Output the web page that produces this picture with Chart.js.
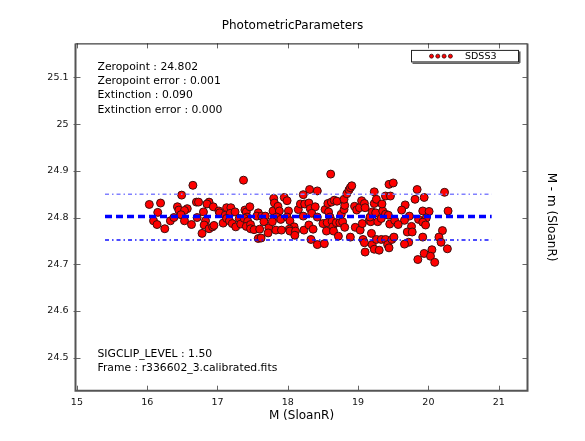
<!DOCTYPE html>
<html>
<head>
<meta charset="utf-8">
<script src="https://cdn.jsdelivr.net/npm/chart.js@4.4.0/dist/chart.umd.min.js"></script>
<style>
html, body { margin: 0; padding: 0; background: #fff; }
canvas { display: block; }
</style>
</head>
<body>
<canvas id="photometry" width="585" height="441"></canvas>
<script>
const xTicks = [15, 16, 17, 18, 19, 20, 21];
const yTicks = [24.5, 24.6, 24.7, 24.8, 24.9, 25.0, 25.1];

// SDSS3 stars: catalogue magnitude M and M - m
const sdssMag = [
    16.65, 16.49, 16.03, 16.19, 16.43, 16.45, 16.15, 16.57, 16.53, 16.48,
    16.70, 16.73, 16.88, 16.85, 16.94, 16.80, 17.02, 17.03, 17.13, 17.11,
    16.09, 16.14, 16.25, 16.33, 16.38, 16.53, 16.63, 16.71, 16.83, 16.81,
    16.88, 16.93, 16.95, 16.78, 17.08, 17.37, 17.19, 17.18, 17.25, 17.13,
    17.17, 17.21, 17.26, 17.31, 17.33, 17.39, 17.41, 17.46, 17.42, 17.38,
    17.43, 17.41, 17.47, 17.47, 17.52, 17.58, 17.56, 17.63, 17.68, 17.60,
    17.66, 17.73, 17.72, 17.58, 17.62, 17.80, 17.81, 17.79, 17.86, 17.88,
    17.84, 17.78, 17.83, 17.90, 17.91, 17.95, 17.99, 18.01, 17.99, 18.03,
    18.09, 18.02, 18.03, 18.11, 18.10, 18.15, 18.18, 18.22, 18.23, 18.24,
    18.22, 18.30, 18.31, 18.32, 18.30, 18.33, 18.61, 18.42, 18.39, 18.34,
    18.36, 18.42, 18.52, 18.42, 18.50, 18.53, 18.57, 18.58, 18.62, 18.66,
    18.70, 18.60, 18.56, 18.55, 18.63, 18.64, 18.65, 18.69, 18.74, 18.78,
    18.76, 18.80, 18.81, 18.80, 18.84, 18.87, 18.89, 18.91, 18.81, 18.72,
    18.89, 18.95, 18.98, 19.02, 19.05, 19.09, 19.10, 18.96, 19.03, 19.06,
    19.07, 19.09, 19.10, 19.16, 19.18, 19.17, 19.20, 19.23, 19.26, 19.23,
    19.19, 19.20, 19.23, 19.26, 19.30, 19.25, 19.28, 19.33, 19.35, 19.34,
    19.39, 19.44, 19.50, 19.46, 19.39, 19.43, 19.45, 19.33, 19.39, 19.42,
    19.44, 19.48, 19.52, 19.84, 20.23, 19.94, 19.81, 19.67, 19.62, 19.92,
    20.01, 20.28, 19.73, 19.66, 19.86, 19.97, 19.92, 19.57, 19.96, 19.76,
    19.70, 19.77, 20.20, 19.51, 19.92, 20.15, 19.72, 19.66, 20.18, 20.27,
    20.05, 19.94, 20.03, 19.85, 20.09
];
const sdssDelta = [
    24.869, 24.848, 24.828, 24.831, 24.823, 24.816, 24.811, 24.819, 24.815, 24.806,
    24.833, 24.833, 24.833, 24.829, 24.823, 24.812, 24.814, 24.810, 24.821, 24.805,
    24.793, 24.785, 24.776, 24.793, 24.800, 24.793, 24.785, 24.800, 24.793, 24.784,
    24.776, 24.780, 24.783, 24.766, 24.788, 24.880, 24.821, 24.809, 24.812, 24.798,
    24.793, 24.787, 24.780, 24.798, 24.786, 24.816, 24.812, 24.823, 24.801, 24.798,
    24.792, 24.781, 24.785, 24.776, 24.774, 24.810, 24.803, 24.803, 24.803, 24.775,
    24.791, 24.778, 24.767, 24.755, 24.756, 24.841, 24.831, 24.814, 24.824, 24.814,
    24.801, 24.791, 24.773, 24.796, 24.773, 24.843, 24.836, 24.814, 24.801, 24.793,
    24.780, 24.775, 24.771, 24.771, 24.762, 24.817, 24.829, 24.803, 24.773, 24.829,
    24.849, 24.831, 24.860, 24.819, 24.784, 24.753, 24.893, 24.857, 24.823, 24.809,
    24.775, 24.742, 24.744, 24.801, 24.787, 24.817, 24.830, 24.812, 24.833, 24.837,
    24.835, 24.801, 24.789, 24.771, 24.792, 24.780, 24.771, 24.789, 24.789, 24.791,
    24.807, 24.817, 24.826, 24.839, 24.851, 24.859, 24.864, 24.868, 24.779, 24.760,
    24.758, 24.824, 24.816, 24.821, 24.836, 24.830, 24.821, 24.779, 24.773, 24.787,
    24.753, 24.746, 24.726, 24.794, 24.791, 24.801, 24.812, 24.830, 24.839, 24.855,
    24.766, 24.742, 24.732, 24.753, 24.730, 24.810, 24.791, 24.798, 24.814, 24.829,
    24.846, 24.871, 24.874, 24.846, 24.807, 24.805, 24.786, 24.753, 24.753, 24.742,
    24.735, 24.753, 24.794, 24.860, 24.854, 24.843, 24.839, 24.827, 24.816, 24.814,
    24.813, 24.814, 24.803, 24.794, 24.796, 24.799, 24.790, 24.785, 24.784, 24.781,
    24.769, 24.769, 24.772, 24.758, 24.758, 24.758, 24.747, 24.743, 24.747, 24.733,
    24.731, 24.723, 24.717, 24.710, 24.704
];

const zeropoint = 24.802;
const clipUpper = 24.850;
const clipLower = 24.752;
const fitRange = [15.4, 20.9];

const infoTop = ['Zeropoint : 24.802', 'Zeropoint error : 0.001', 'Extinction : 0.090', 'Extinction error : 0.000'];
const infoBottom = ['SIGCLIP_LEVEL : 1.50', 'Frame : r336602_3.calibrated.fits'];

const FONT = "'DejaVu Sans', sans-serif";

const hline = (y) => fitRange.map(x => ({x: x, y: y}));

// frame with inward ticks, info text and the little legend box
const framePlugin = {
    id: 'frame',
    afterDatasetsDraw(chart) {
        const {ctx, chartArea: a, scales} = chart;
        ctx.save();
        ctx.strokeStyle = '#666';
        ctx.lineWidth = 1;
        ctx.beginPath();
        xTicks.forEach(v => {
            const px = Math.round(scales.x.getPixelForValue(v)) + 0.5;
            ctx.moveTo(px, a.bottom); ctx.lineTo(px, a.bottom - 5);
            ctx.moveTo(px, a.top); ctx.lineTo(px, a.top + 5);
        });
        yTicks.forEach(v => {
            const py = Math.round(scales.y.getPixelForValue(v)) + 0.5;
            ctx.moveTo(a.left - 2, py); ctx.lineTo(a.left + 5, py);
            ctx.moveTo(a.right, py); ctx.lineTo(a.right - 5, py);
        });
        ctx.stroke();

        ctx.lineWidth = 1;
        ctx.strokeStyle = '#111';
        ctx.beginPath();
        ctx.moveTo(a.left, a.top + 0.5); ctx.lineTo(a.right, a.top + 0.5);
        ctx.stroke();
        ctx.lineWidth = 2;
        ctx.strokeStyle = '#555';
        ctx.beginPath();
        ctx.moveTo(a.left, a.top); ctx.lineTo(a.left, a.bottom);
        ctx.lineTo(a.right, a.bottom); ctx.lineTo(a.right, a.top);
        ctx.stroke();
        ctx.restore();
    },
    afterDraw(chart) {
        const {ctx, chartArea: a} = chart;
        ctx.save();
        ctx.fillStyle = '#000';
        ctx.font = '10.8px ' + FONT;
        ctx.textAlign = 'left';
        ctx.textBaseline = 'alphabetic';
        infoTop.forEach((t, i) => ctx.fillText(t, a.left + 22, a.top + 26.5 + i * 14.2));
        infoBottom.forEach((t, i) => ctx.fillText(t, a.left + 22, a.bottom - 34 + i * 14.6));

        const ds = chart.data.datasets[3];
        const bx = a.right - 116.5, by = a.top + 6.5, bw = 107, bh = 11.5;
        ctx.fillStyle = '#fff';
        ctx.fillRect(bx, by, bw, bh);
        ctx.strokeStyle = '#222';
        ctx.lineWidth = 1;
        ctx.strokeRect(bx + 0.5, by + 0.5, bw, bh);
        ctx.fillStyle = '#555';
        ctx.fillRect(bx + bw + 1, by + 1.5, 1.5, bh);
        ctx.fillRect(bx + 1.5, by + bh + 1, bw, 1.5);
        for (let i = 0; i < 4; i++) {
            ctx.beginPath();
            ctx.arc(bx + 20.5 + i * 6.3, by + bh / 2 + 0.5, 2, 0, Math.PI * 2);
            ctx.fillStyle = ds.backgroundColor;
            ctx.fill();
            ctx.strokeStyle = ds.borderColor;
            ctx.lineWidth = 0.8;
            ctx.stroke();
        }
        ctx.fillStyle = '#000';
        ctx.font = '9.5px ' + FONT;
        ctx.fillText(ds.label, bx + 54, by + 9.5);
        ctx.restore();
    }
};

const myChart = new Chart(document.getElementById('photometry'), {
    type: 'scatter',
    data: {
        datasets: [
            {
                label: 'zeropoint',
                type: 'line',
                data: hline(zeropoint),
                borderColor: '#0000ff',
                borderWidth: 3.5,
                borderDash: [7, 4],
                pointRadius: 0,
                order: 0
            },
            {
                label: 'upper',
                type: 'line',
                data: hline(clipUpper),
                borderColor: '#8080ff',
                borderWidth: 1.5,
                borderDash: [4, 3, 1.5, 3],
                pointRadius: 0,
                order: 0
            },
            {
                label: 'lower',
                type: 'line',
                data: hline(clipLower),
                borderColor: '#1010ff',
                borderWidth: 1.5,
                borderDash: [4, 3, 1.5, 3],
                pointRadius: 0,
                order: 0
            },
            {
                label: 'SDSS3',
                data: sdssMag.map((m, i) => ({x: m, y: sdssDelta[i]})),
                backgroundColor: '#ff0000',
                borderColor: '#3c1010',
                borderWidth: 1,
                pointRadius: 4,
                order: 1
            }
        ]
    },
    options: {
        responsive: false,
        animation: false,
        events: [],
        layout: { padding: 0 },
        plugins: {
            legend: { display: false },
            tooltip: { enabled: false },
            title: {
                display: true,
                text: 'PhotometricParameters',
                color: '#000',
                font: { family: FONT, size: 12, weight: 'normal' },
                padding: { top: 19, bottom: 10 }
            }
        },
        scales: {
            x: {
                type: 'linear',
                min: 14.98,
                max: 21.41,
                afterBuildTicks: s => { s.ticks = xTicks.map(v => ({value: v})); },
                afterFit: s => { s.height = 50.3; },
                grid: { display: false, drawTicks: false },
                border: { display: false },
                ticks: { padding: 6.5, color: '#111', font: { family: FONT, size: 9.5 }, maxRotation: 0 },
                title: {
                    display: true,
                    text: 'M (SloanR)',
                    color: '#000',
                    font: { family: FONT, size: 12 },
                    padding: { top: 0, bottom: 18 }
                }
            },
            y: {
                type: 'linear',
                position: 'left',
                min: 24.429,
                max: 25.173,
                afterBuildTicks: s => { s.ticks = yTicks.map(v => ({value: v})); },
                afterFit: s => { s.width = 75.5; },
                grid: { display: false, drawTicks: false },
                border: { display: false },
                ticks: {
                    padding: 7,
                    color: '#111',
                    font: { family: FONT, size: 9.5 },
                    callback: v => String(Math.round(v * 10) / 10)
                }
            },
            y2: {
                type: 'linear',
                position: 'right',
                min: 24.429,
                max: 25.173,
                afterFit: s => { s.width = 57.5; },
                grid: { display: false, drawTicks: false },
                border: { display: false },
                ticks: { display: false },
                title: {
                    display: true,
                    text: 'M - m (SloanR)',
                    color: '#000',
                    font: { family: FONT, size: 12 },
                    padding: { top: 27, bottom: 0 }
                }
            }
        }
    },
    plugins: [framePlugin]
});
</script>
</body>
</html>
